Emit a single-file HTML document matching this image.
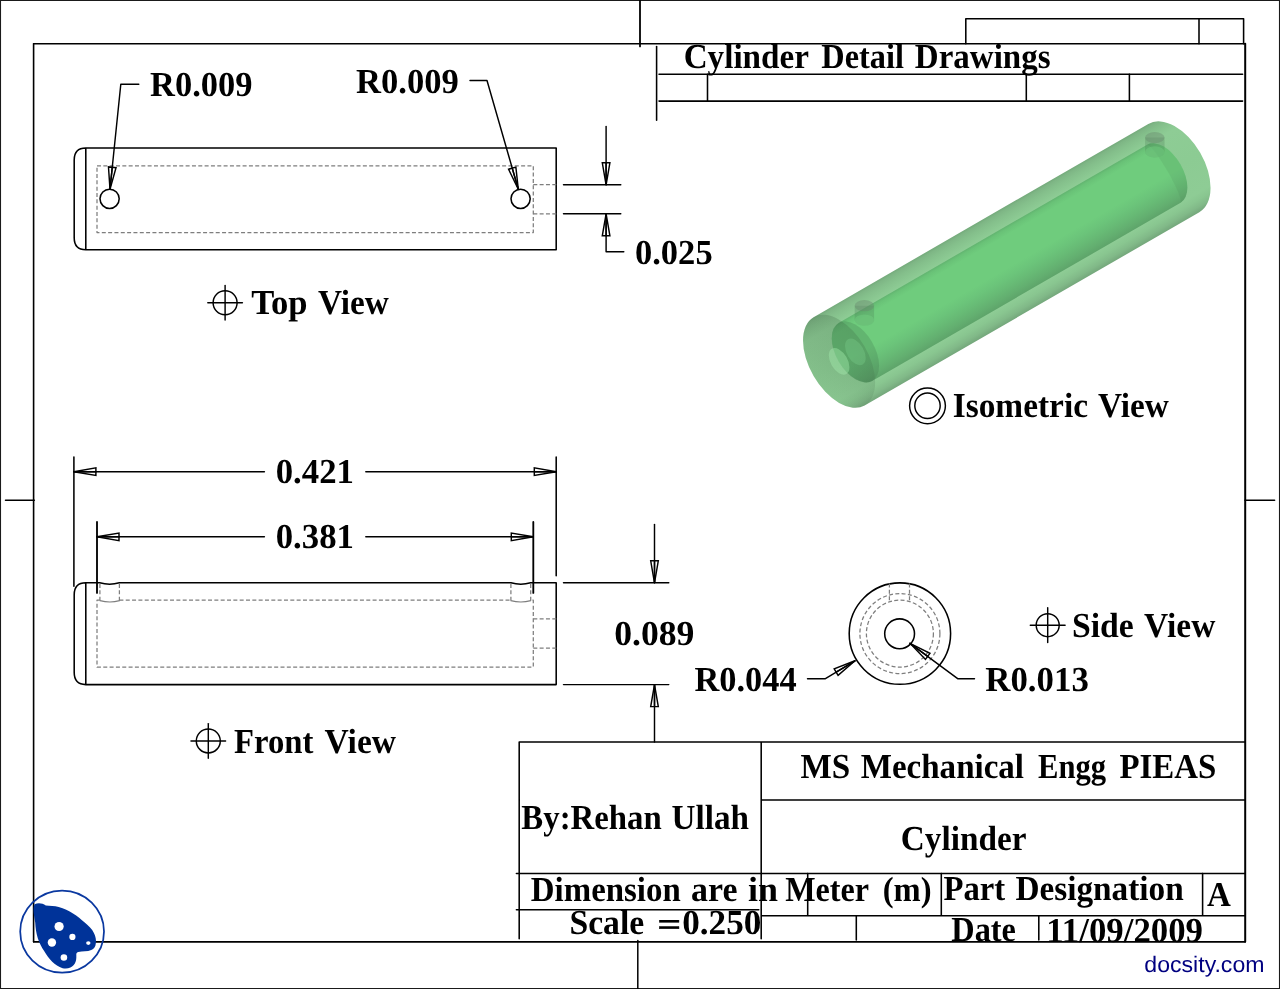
<!DOCTYPE html>
<html><head><meta charset="utf-8"><title>Cylinder Detail Drawings</title>
<style>
html,body{margin:0;padding:0;background:#fff;}
body{width:1280px;height:989px;overflow:hidden;font-family:"Liberation Serif",serif;}
svg{display:block;position:absolute;left:0;top:0;will-change:transform;}
svg text{font-family:"Liberation Serif",serif;font-weight:bold;fill:#000;mix-blend-mode:multiply;text-rendering:geometricPrecision;}
svg text.sans{font-family:"Liberation Sans",sans-serif;font-weight:normal;fill:#000080;}
</style></head><body>
<svg width="1280" height="989" viewBox="0 0 1280 989" stroke-linecap="round" stroke-linejoin="round">
<rect x="0" y="0" width="1280" height="989" fill="#fff"/>

<defs>
<linearGradient id="gshell" gradientUnits="userSpaceOnUse" x1="813.60" y1="317.13" x2="864.60" y2="405.47">
<stop offset="0" stop-color="#74aa7b"/><stop offset="0.025" stop-color="#7eb685"/><stop offset="0.07" stop-color="#84bf8b"/><stop offset="0.12" stop-color="#89c690"/><stop offset="0.17" stop-color="#8ecc95"/>
<stop offset="0.5" stop-color="#8ccb93"/><stop offset="0.83" stop-color="#8ecc95"/><stop offset="0.89" stop-color="#89c690"/><stop offset="0.95" stop-color="#81b988"/><stop offset="1" stop-color="#74a77b"/>
</linearGradient>
<linearGradient id="gcore" gradientUnits="userSpaceOnUse" x1="822.35" y1="332.29" x2="855.85" y2="390.31">
<stop offset="0" stop-color="#62b470"/><stop offset="0.04" stop-color="#69c277"/><stop offset="0.12" stop-color="#6fcc7d"/>
<stop offset="0.55" stop-color="#6fcc7d"/><stop offset="0.68" stop-color="#6bc47a"/><stop offset="0.80" stop-color="#67ba75"/><stop offset="0.91" stop-color="#63af70"/><stop offset="1" stop-color="#5ea46a"/>
</linearGradient>
<linearGradient id="gface" gradientUnits="userSpaceOnUse" x1="813.60" y1="317.13" x2="864.60" y2="405.47">
<stop offset="0" stop-color="rgb(55,90,62)" stop-opacity="0.26"/><stop offset="0.55" stop-color="rgb(55,90,62)" stop-opacity="0.15"/><stop offset="1" stop-color="rgb(55,90,62)" stop-opacity="0.03"/>
</linearGradient>
</defs>
<g id="iso">
<path d="M813.60 317.13 L1148.32 123.88 A51 30.50 60 0 1 1199.32 212.22 L864.60 405.47 A51 29.45 60 0 1 813.60 317.13 Z" fill="url(#gshell)"/>
<path d="M838.61 322.90 L1147.09 144.80 A33.5 19.34 60 0 1 1180.59 202.82 L872.11 380.92 A33.5 19.34 60 0 1 838.61 322.90 Z" fill="url(#gcore)"/>
<path d="M1147.09 144.80 A33.5 19.34 60 0 1 1180.59 202.82 A33.5 4.5 60 0 0 1147.09 144.80 Z" fill="rgba(70,120,80,0.13)"/>
<path d="M854.6999999999999 305.7 L854.6999999999999 320.0 A9.7 5.6 0 0 0 874.1 320.0 L874.1 305.7 Z" fill="rgba(70,120,80,0.26)"/>
<ellipse cx="864.4" cy="320.0" rx="9.7" ry="5.6" fill="rgba(120,215,135,0.35)"/>
<ellipse cx="864.4" cy="305.7" rx="9.7" ry="5.6" fill="rgba(105,135,110,0.42)"/>
<path d="M1145.1 137.6 L1145.1 151.9 A9.7 5.6 0 0 0 1164.5 151.9 L1164.5 137.6 Z" fill="rgba(70,120,80,0.26)"/>
<ellipse cx="1154.8" cy="151.9" rx="9.7" ry="5.6" fill="rgba(120,215,135,0.35)"/>
<ellipse cx="1154.8" cy="137.6" rx="9.7" ry="5.6" fill="rgba(105,135,110,0.42)"/>
<ellipse cx="839.10" cy="361.30" rx="51" ry="29.45" transform="rotate(60 839.10 361.30)" fill="url(#gface)" />
<ellipse cx="855.36" cy="351.91" rx="33.5" ry="19.34" transform="rotate(60 855.36 351.91)" fill="rgba(60,110,70,0.24)" />
<ellipse cx="855.36" cy="351.91" rx="14.6" ry="8.43" transform="rotate(60 855.36 351.91)" fill="rgba(130,215,145,0.30)" />
<ellipse cx="839.10" cy="361.30" rx="14.6" ry="8.43" transform="rotate(60 839.10 361.30)" fill="rgba(165,235,175,0.42)" />
</g>
<g id="frame" fill="none">
<rect x="0.5" y="0.5" width="1279" height="988" stroke="#1a1a1a" stroke-width="1.1"/>
<line x1="33.6" y1="43.7" x2="1245.2" y2="43.7" stroke="#000" stroke-width="1.5" />
<line x1="33.6" y1="43.7" x2="33.6" y2="941.85" stroke="#000" stroke-width="1.6" />
<line x1="33.6" y1="941.85" x2="1245.2" y2="941.85" stroke="#000" stroke-width="1.6" />
<line x1="1245.2" y1="43.7" x2="1245.2" y2="941.85" stroke="#000" stroke-width="2.0" />
<line x1="640" y1="0" x2="640" y2="46.4" stroke="#000" stroke-width="1.8" />
<line x1="637.8" y1="940.5" x2="637.8" y2="989" stroke="#000" stroke-width="1.5" />
<line x1="5.5" y1="500.2" x2="34.3" y2="500.2" stroke="#000" stroke-width="1.55" />
<line x1="1245" y1="500.2" x2="1274.6" y2="500.2" stroke="#000" stroke-width="1.55" />
<line x1="656.6" y1="46.4" x2="656.6" y2="120.3" stroke="#000" stroke-width="1.55" />
<line x1="659" y1="74.3" x2="1242.6" y2="74.3" stroke="#000" stroke-width="1.55" />
<line x1="659" y1="101.1" x2="1242.6" y2="101.1" stroke="#000" stroke-width="1.55" />
<line x1="707.5" y1="74.3" x2="707.5" y2="101.1" stroke="#000" stroke-width="1.55" />
<line x1="1026.3" y1="74.3" x2="1026.3" y2="101.1" stroke="#000" stroke-width="1.55" />
<line x1="1129.4" y1="74.3" x2="1129.4" y2="101.1" stroke="#000" stroke-width="1.55" />
<path d="M965.8 43.8 V18.7 H1243.6 V43.8 M1199 18.7 V43.8" stroke="#000" stroke-width="1.55"/>
</g>
<g id="topview">
<path d="M85.8 148 H556.2 V249.8 H85.8 M85.8 148 V249.8 M85.8 148 Q74.2 148 74.2 160 V237.8 Q74.2 249.8 85.8 249.8" fill="none" stroke="#000" stroke-width="1.55"/>
<path d="M97 165.8 H533.3 V232.5 H97 Z" fill="none" stroke="#7e7e7e" stroke-width="1.25" stroke-dasharray="4 2.33" stroke-linecap="butt"/>
<path d="M533.3 184.6 H556.3 M533.3 213.8 H556.3" fill="none" stroke="#7e7e7e" stroke-width="1.25" stroke-dasharray="4 2.33" stroke-linecap="butt"/>
<circle cx="109.6" cy="198.8" r="9.6" fill="#fff" stroke="#000" stroke-width="1.55"/>
<circle cx="520.6" cy="198.8" r="9.6" fill="#fff" stroke="#000" stroke-width="1.55"/>
<path d="M138.8 84.3 H120.8 L110 189.2" fill="none" stroke="#000" stroke-width="1.45"/>
<path d="M110.00 189.20 L108.47 166.93 L116.03 167.70 Z" fill="none" stroke="#000" stroke-width="1.45" stroke-linejoin="miter"/>
<line x1="110.00" y1="189.20" x2="112.25" y2="167.32" stroke="#000" stroke-width="1.45"/>
<path d="M470 80.5 H487 L518.3 189.3" fill="none" stroke="#000" stroke-width="1.45"/>
<path d="M518.30 189.30 L508.57 169.21 L515.87 167.11 Z" fill="none" stroke="#000" stroke-width="1.45" stroke-linejoin="miter"/>
<line x1="518.30" y1="189.30" x2="512.22" y2="168.16" stroke="#000" stroke-width="1.45"/>
<text x="150.05" y="96.25" font-size="35.0" textLength="102.46" lengthAdjust="spacingAndGlyphs" >R0.009</text>
<text x="356.04" y="92.5" font-size="35.0" textLength="102.83" lengthAdjust="spacingAndGlyphs" >R0.009</text>
<line x1="563.5" y1="184.8" x2="620.8" y2="184.8" stroke="#000" stroke-width="1.45" />
<line x1="563.5" y1="213.8" x2="620.8" y2="213.8" stroke="#000" stroke-width="1.45" />
<line x1="606.1" y1="126.5" x2="606.1" y2="184.8" stroke="#000" stroke-width="1.45" />
<path d="M606.10 184.80 L602.30 162.80 L609.90 162.80 Z" fill="none" stroke="#000" stroke-width="1.45" stroke-linejoin="miter"/>
<line x1="606.10" y1="184.80" x2="606.10" y2="162.80" stroke="#000" stroke-width="1.45"/>
<path d="M606.1 213.8 V251.8 H623.8" fill="none" stroke="#000" stroke-width="1.45"/>
<path d="M606.10 213.80 L609.90 235.80 L602.30 235.80 Z" fill="none" stroke="#000" stroke-width="1.45" stroke-linejoin="miter"/>
<line x1="606.10" y1="213.80" x2="606.10" y2="235.80" stroke="#000" stroke-width="1.45"/>
<text x="634.98" y="263.75" font-size="35.0" textLength="77.68" lengthAdjust="spacingAndGlyphs" >0.025</text>
<circle cx="225.1" cy="302.7" r="12" fill="none" stroke="#000" stroke-width="1.45"/>
<line x1="207.79999999999998" y1="302.7" x2="242.4" y2="302.7" stroke="#000" stroke-width="1.45" />
<line x1="225.1" y1="285.4" x2="225.1" y2="320.0" stroke="#000" stroke-width="1.45" />
<text y="314.25" font-size="35.0" ><tspan x="251.19" textLength="56.42" lengthAdjust="spacingAndGlyphs">Top</tspan> <tspan x="317.91" textLength="70.91" lengthAdjust="spacingAndGlyphs">View</tspan></text>
</g>
<g id="frontview">
<path d="M85.8 582.8 H99.7 Q109.6 585.7 119.4 582.8 H510.9 Q520.8 585.7 530.7 582.8 H556.2 V684.6 H85.8 M85.8 582.8 V684.6 M85.8 582.8 Q74.2 582.8 74.2 594.8 V672.6 Q74.2 684.6 85.8 684.6" fill="none" stroke="#000" stroke-width="1.55"/>
<path d="M99.9 600.2 H97 V667 H533.3 V600.2 H530.7 M119.4 600.2 H510.9" fill="none" stroke="#7e7e7e" stroke-width="1.25" stroke-dasharray="4 2.33" stroke-linecap="butt"/>
<path d="M533.3 618.8 H556.3 M533.3 648 H556.3" fill="none" stroke="#7e7e7e" stroke-width="1.25" stroke-dasharray="4 2.33" stroke-linecap="butt"/>
<path d="M99.9 584 V600 M119.4 584 V600 M510.9 584 V600 M530.7 584 V600" fill="none" stroke="#7e7e7e" stroke-width="1.25" stroke-dasharray="4 2.33" stroke-linecap="butt"/>
<path d="M100 600.6 Q110 603.4 119.6 600.6 M510.8 600.6 Q520.8 603.4 530.8 600.6" fill="none" stroke="#7e7e7e" stroke-width="1.2"/>
<line x1="73.9" y1="457" x2="73.9" y2="586.3" stroke="#000" stroke-width="1.55" />
<line x1="556.2" y1="457" x2="556.2" y2="575.7" stroke="#000" stroke-width="1.55" />
<line x1="73.9" y1="471.7" x2="264.4" y2="471.7" stroke="#000" stroke-width="1.45" />
<line x1="365.8" y1="471.7" x2="556.3" y2="471.7" stroke="#000" stroke-width="1.45" />
<path d="M73.90 471.70 L95.90 467.90 L95.90 475.50 Z" fill="none" stroke="#000" stroke-width="1.45" stroke-linejoin="miter"/>
<line x1="73.90" y1="471.70" x2="95.90" y2="471.70" stroke="#000" stroke-width="1.45"/>
<path d="M556.30 471.70 L534.30 475.50 L534.30 467.90 Z" fill="none" stroke="#000" stroke-width="1.45" stroke-linejoin="miter"/>
<line x1="556.30" y1="471.70" x2="534.30" y2="471.70" stroke="#000" stroke-width="1.45"/>
<text x="275.73" y="483" font-size="35.0" textLength="78.23" lengthAdjust="spacingAndGlyphs" >0.421</text>
<line x1="97" y1="522" x2="97" y2="592.9" stroke="#000" stroke-width="1.85" />
<line x1="533.3" y1="522" x2="533.3" y2="592.9" stroke="#000" stroke-width="1.85" />
<line x1="97" y1="536.8" x2="264.4" y2="536.8" stroke="#000" stroke-width="1.45" />
<line x1="365.8" y1="536.8" x2="533.3" y2="536.8" stroke="#000" stroke-width="1.45" />
<path d="M97.00 536.80 L119.00 533.00 L119.00 540.60 Z" fill="none" stroke="#000" stroke-width="1.45" stroke-linejoin="miter"/>
<line x1="97.00" y1="536.80" x2="119.00" y2="536.80" stroke="#000" stroke-width="1.45"/>
<path d="M533.30 536.80 L511.30 540.60 L511.30 533.00 Z" fill="none" stroke="#000" stroke-width="1.45" stroke-linejoin="miter"/>
<line x1="533.30" y1="536.80" x2="511.30" y2="536.80" stroke="#000" stroke-width="1.45"/>
<text x="275.73" y="548" font-size="35.0" textLength="78.23" lengthAdjust="spacingAndGlyphs" >0.381</text>
<line x1="563.5" y1="582.8" x2="668.8" y2="582.8" stroke="#000" stroke-width="1.45" />
<line x1="563.5" y1="684.6" x2="668.8" y2="684.6" stroke="#000" stroke-width="1.45" />
<line x1="654.5" y1="524.5" x2="654.5" y2="582.8" stroke="#000" stroke-width="1.45" />
<path d="M654.50 582.80 L650.70 560.80 L658.30 560.80 Z" fill="none" stroke="#000" stroke-width="1.45" stroke-linejoin="miter"/>
<line x1="654.50" y1="582.80" x2="654.50" y2="560.80" stroke="#000" stroke-width="1.45"/>
<line x1="654.5" y1="684.6" x2="654.5" y2="742" stroke="#000" stroke-width="1.45" />
<path d="M654.50 684.60 L658.30 706.60 L650.70 706.60 Z" fill="none" stroke="#000" stroke-width="1.45" stroke-linejoin="miter"/>
<line x1="654.50" y1="684.60" x2="654.50" y2="706.60" stroke="#000" stroke-width="1.45"/>
<text x="614.16" y="645" font-size="35.0" textLength="80.30" lengthAdjust="spacingAndGlyphs" >0.089</text>
<circle cx="208.3" cy="740.9" r="12" fill="none" stroke="#000" stroke-width="1.45"/>
<line x1="191.0" y1="740.9" x2="225.60000000000002" y2="740.9" stroke="#000" stroke-width="1.45" />
<line x1="208.3" y1="723.6" x2="208.3" y2="758.1999999999999" stroke="#000" stroke-width="1.45" />
<text y="753" font-size="35.0" ><tspan x="234.01" textLength="79.38" lengthAdjust="spacingAndGlyphs">Front</tspan> <tspan x="324.62" textLength="71.36" lengthAdjust="spacingAndGlyphs">View</tspan></text>
</g>
<g id="sideview">
<circle cx="899.9" cy="633.6" r="50.7" fill="none" stroke="#000" stroke-width="1.55"/>
<circle cx="899.6" cy="633.8" r="14.9" fill="none" stroke="#000" stroke-width="1.55"/>
<circle cx="899.9" cy="633.6" r="40" fill="none" stroke="#7e7e7e" stroke-width="1.25" stroke-dasharray="4 2.33" stroke-linecap="butt"/>
<circle cx="899.9" cy="633.6" r="33.5" fill="none" stroke="#7e7e7e" stroke-width="1.25" stroke-dasharray="4 2.33" stroke-linecap="butt"/>
<path d="M889.4 583.5 V600.5 M909.5 583.5 V600.5" fill="none" stroke="#7e7e7e" stroke-width="1.25" stroke-dasharray="4 2.33" stroke-linecap="butt"/>
<path d="M807.5 678.8 H825 L855 660.8" fill="none" stroke="#000" stroke-width="1.45"/>
<path d="M855.00 660.80 L838.09 675.38 L834.18 668.86 Z" fill="none" stroke="#000" stroke-width="1.45" stroke-linejoin="miter"/>
<line x1="855.00" y1="660.80" x2="836.14" y2="672.12" stroke="#000" stroke-width="1.45"/>
<path d="M974.5 678.8 H958 L910 643.3" fill="none" stroke="#000" stroke-width="1.45"/>
<path d="M910.00 643.30 L929.95 653.33 L925.43 659.44 Z" fill="none" stroke="#000" stroke-width="1.45" stroke-linejoin="miter"/>
<line x1="910.00" y1="643.30" x2="927.69" y2="656.38" stroke="#000" stroke-width="1.45"/>
<text x="694.50" y="690.5" font-size="35.0" textLength="102.17" lengthAdjust="spacingAndGlyphs" >R0.044</text>
<text x="985.27" y="690.5" font-size="35.0" textLength="103.55" lengthAdjust="spacingAndGlyphs" >R0.013</text>
<circle cx="1047.7" cy="625.2" r="11.5" fill="none" stroke="#000" stroke-width="1.45"/>
<line x1="1030.3" y1="625.2" x2="1065.1000000000001" y2="625.2" stroke="#000" stroke-width="1.45" />
<line x1="1047.7" y1="607.8000000000001" x2="1047.7" y2="642.6" stroke="#000" stroke-width="1.45" />
<text y="637" font-size="35.0" ><tspan x="1071.98" textLength="61.88" lengthAdjust="spacingAndGlyphs">Side</tspan> <tspan x="1144.09" textLength="71.24" lengthAdjust="spacingAndGlyphs">View</tspan></text>
</g>
<circle cx="927.5" cy="405.8" r="17.9" fill="none" stroke="#000" stroke-width="1.45"/>
<circle cx="927.5" cy="405.8" r="12.7" fill="none" stroke="#000" stroke-width="1.45"/>
<text y="417" font-size="35.0" ><tspan x="952.66" textLength="135.33" lengthAdjust="spacingAndGlyphs">Isometric</tspan> <tspan x="1097.91" textLength="70.91" lengthAdjust="spacingAndGlyphs">View</tspan></text>
<text y="67.5" font-size="35.0" ><tspan x="683.63" textLength="124.76" lengthAdjust="spacingAndGlyphs">Cylinder</tspan> <tspan x="821.32" textLength="82.65" lengthAdjust="spacingAndGlyphs">Detail</tspan> <tspan x="914.86" textLength="135.73" lengthAdjust="spacingAndGlyphs">Drawings</tspan></text>
<g id="titleblock">
<path d="M519.2 938.8 V742 H1245 M761.2 742 V938.8 M761.2 800 H1245 M516.4 873.4 H1245 M516.4 909.7 H758.8 M761.2 915.8 H1245 M807.7 873.3 V915.8 M941.3 873.3 V915.8 M1202.6 873.3 V915.8 M856.3 915.8 V940 M1038.8 915.8 V940" fill="none" stroke="#000" stroke-width="1.55"/>
<text y="777.5" font-size="35.0" ><tspan x="800.45" textLength="49.71" lengthAdjust="spacingAndGlyphs">MS</tspan> <tspan x="860.72" textLength="163.34" lengthAdjust="spacingAndGlyphs">Mechanical</tspan> <tspan x="1038.05" textLength="68.10" lengthAdjust="spacingAndGlyphs">Engg</tspan> <tspan x="1119.51" textLength="96.81" lengthAdjust="spacingAndGlyphs">PIEAS</tspan></text>
<text x="900.79" y="849.5" font-size="35.0" textLength="125.64" lengthAdjust="spacingAndGlyphs" >Cylinder</text>
<text y="828.75" font-size="35.0" ><tspan x="521.33" textLength="140.43" lengthAdjust="spacingAndGlyphs">By:Rehan</tspan> <tspan x="671.58" textLength="77.36" lengthAdjust="spacingAndGlyphs">Ullah</tspan></text>
<text y="900.6" font-size="35.0" ><tspan x="530.86" textLength="149.85" lengthAdjust="spacingAndGlyphs">Dimension</tspan> <tspan x="691.01" textLength="46.44" lengthAdjust="spacingAndGlyphs">are</tspan> <tspan x="748.01" textLength="29.97" lengthAdjust="spacingAndGlyphs">in</tspan> <tspan x="785.18" textLength="83.37" lengthAdjust="spacingAndGlyphs">Meter</tspan> <tspan x="882.72" textLength="48.84" lengthAdjust="spacingAndGlyphs">(m)</tspan></text>
<text y="900.4" font-size="35.0" ><tspan x="943.52" textLength="61.75" lengthAdjust="spacingAndGlyphs">Part</tspan> <tspan x="1015.41" textLength="168.28" lengthAdjust="spacingAndGlyphs">Designation</tspan></text>
<text x="1207.11" y="906.25" font-size="35.0" textLength="23.85" lengthAdjust="spacingAndGlyphs" >A</text>
<text x="569.40" y="933.75" font-size="35.0" textLength="74.89" lengthAdjust="spacingAndGlyphs" >Scale</text>
<text x="657.25" y="934.8" font-size="32" textLength="24.02" lengthAdjust="spacingAndGlyphs" stroke="#000" stroke-width="0.35">=</text>
<text x="682.22" y="933.75" font-size="35.0" textLength="79.18" lengthAdjust="spacingAndGlyphs" >0.250</text>
<text x="951.32" y="941.3" font-size="35.0" textLength="64.65" lengthAdjust="spacingAndGlyphs" >Date</text>
<text x="1046.36" y="942.1" font-size="35.0" textLength="156.66" lengthAdjust="spacingAndGlyphs" >11/09/2009</text>
</g>
<text x="1144.33" y="972" font-size="22.5" textLength="120.16" lengthAdjust="spacingAndGlyphs" class="sans">docsity.com</text>
<g id="logo">
<path d="M34.6 904.3 C38 902.6 42.5 903.2 45.8 905.4 C50 905.6 54.5 905.9 58.7 906.9 C64 908.3 68.8 910.7 73 913.5 C77.3 916.3 81.2 919.2 84.7 922.6 C88.6 925.7 92 929.2 93.9 933 C95.6 936.4 96.4 940 95.8 943.4 C95.6 946.4 94 948.8 91.3 950 C87.5 951.8 82.5 951.2 78.2 951.9 C77.2 952.2 76.6 952.9 76.3 953.9 C76.3 956.5 76.6 959 75.6 961.7 C74.6 964.4 72.8 966.4 70.4 967.6 C68 968.7 65.2 968.9 62.6 968.2 C58.6 966.9 55.1 964.6 52.2 961.7 C49.1 958.6 46.5 955 44.3 951.3 C41.6 947.2 39.4 942.8 37.8 938.2 C36.2 933.2 35.5 927.9 35.2 922.6 C34.6 919 33.9 915.6 33.6 912.2 C33.4 909.3 33.5 906.4 34.6 904.3 Z" fill="#003399"/>
<ellipse cx="59.1" cy="926.5" rx="4.6" ry="4.6" fill="#fff"/>
<ellipse cx="72.4" cy="936.9" rx="3.1" ry="3.1" fill="#fff"/>
<ellipse cx="51.9" cy="942.5" rx="4.2" ry="4.2" fill="#fff"/>
<ellipse cx="63.9" cy="957.5" rx="3.3" ry="3.3" fill="#fff"/>
<ellipse cx="88.3" cy="943.1" rx="2.2" ry="1.8" fill="#fff"/>
<ellipse cx="62.1" cy="931.6" rx="41.9" ry="41.1" fill="none" stroke="#0a38a0" stroke-width="1.75"/>
</g>
</svg>
</body></html>
